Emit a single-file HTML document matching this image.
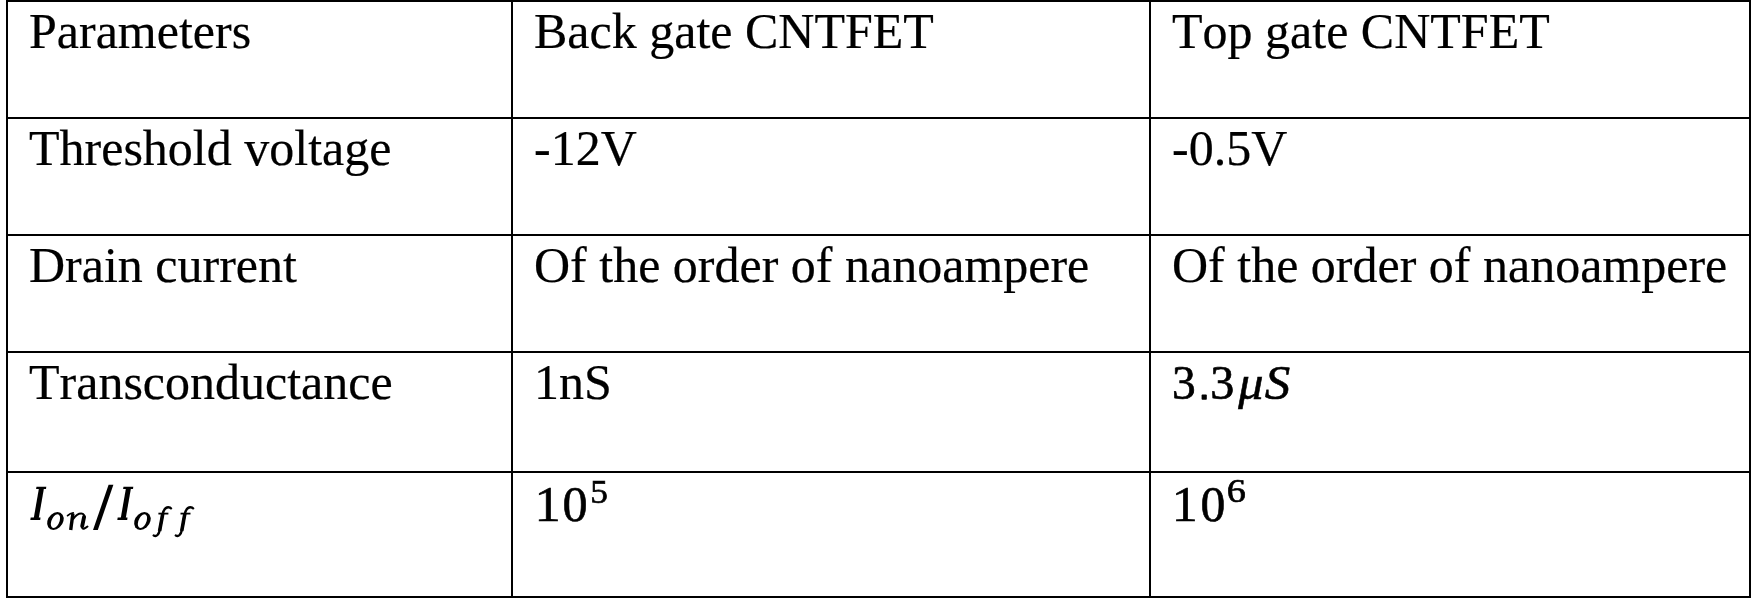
<!DOCTYPE html>
<html><head><meta charset="utf-8"><style>
html,body{margin:0;padding:0;background:#fff;}
body{will-change:transform;width:1756px;height:610px;position:relative;overflow:hidden;font-family:"Liberation Serif",serif;color:#000;}
.h,.v{position:absolute;background:#000;}
.h{left:6px;width:1745px;height:2px;}
.v{top:0;height:598px;width:2px;}
.t{font-kerning:none;font-variant-ligatures:none;position:absolute;white-space:nowrap;font-size:50px;line-height:56px;height:56px;transform-origin:0 44px;transform:translateY(-1.3px) scale(1,1.012);-webkit-text-stroke:0.22px #000;}
.g{position:absolute;left:0;top:0;white-space:nowrap;font-size:50px;line-height:50px;transform-origin:0 0;}
.s{font-size:35px;line-height:35px;}
.i{font-style:italic;}
svg{position:absolute;left:0;top:0;}
text{white-space:pre;}
</style></head><body>
<div class="h" style="top:0"></div>
<div class="h" style="top:117px"></div>
<div class="h" style="top:234px"></div>
<div class="h" style="top:351px"></div>
<div class="h" style="top:471px"></div>
<div class="h" style="top:596px"></div>
<div class="v" style="left:6px"></div>
<div class="v" style="left:511px"></div>
<div class="v" style="left:1149px"></div>
<div class="v" style="left:1749px"></div>

<div class="t" style="left:29px;top:4px">Parameters</div>
<div class="t" style="left:534px;top:4px">Back gate CNTFET</div>
<div class="t" style="left:1172px;top:4px">Top gate CNTFET</div>

<div class="t" style="left:29px;top:121px">Threshold voltage</div>
<div class="t" style="left:534px;top:121px">-12V</div>
<div class="t" style="left:1172px;top:121px">-0.5V</div>

<div class="t" style="left:29px;top:238px">Drain current</div>
<div class="t" style="left:534px;top:238px">Of the order of nanoampere</div>
<div class="t" style="left:1172px;top:238px">Of the order of nanoampere</div>

<div class="t" style="left:29px;top:355px">Transconductance</div>
<div class="t" style="left:534px;top:355px">1nS</div>

<svg width="1756" height="610" viewBox="0 0 1756 610" font-family="Liberation Serif" fill="#000">
<defs>

</defs>
<polygon points="108.6,484.8 113.4,484.8 97.8,530.1 93.0,530.1"/>
<rect x="1201.6" y="394.6" width="5.2" height="5.2" rx="0.8"/>
<g>
<polygon points="39.0,488 44.0,488 38.6,519 33.6,519"/>
<polygon points="36.5,486.8 46.3,486.8 46.0,489.1 36.1,489.1"/>
<polygon points="30.7,517.5 40.5,517.5 40.2,519.9 30.3,519.9"/>
<ellipse cx="0" cy="0" rx="8.05" ry="8.9" transform="translate(55.4,521.0) skewX(-13)"/>
<ellipse cx="0" cy="0" rx="4.2" ry="6.9" transform="translate(55.5,521.05) skewX(-16)" fill="#fff"/>
</g>
<g transform="translate(87,0)">
<polygon points="39.0,488 44.0,488 38.6,519 33.6,519"/>
<polygon points="36.5,486.8 46.3,486.8 46.0,489.1 36.1,489.1"/>
<polygon points="30.7,517.5 40.5,517.5 40.2,519.9 30.3,519.9"/>
<ellipse cx="0" cy="0" rx="8.05" ry="8.9" transform="translate(55.4,521.0) skewX(-13)"/>
<ellipse cx="0" cy="0" rx="4.2" ry="6.9" transform="translate(55.5,521.05) skewX(-16)" fill="#fff"/>
</g>
<g fill="none" stroke="#000" stroke-linecap="round" stroke-linejoin="round">
<path d="M67.6 515.6 C69.2 514.2 71 513.2 73.2 512.9" stroke-width="1.8"/>
<path d="M72.9 513.6 L70.7 529.9" stroke-width="3.4" stroke-linecap="butt"/>
<path d="M73.4 518.8 C75.5 515.6 78.6 513.5 81.2 513.5 C83.8 513.5 84.6 515.4 84.2 517.6 L82.2 526.0 C81.7 528.2 82.7 529.2 84.3 528.5 C85.6 527.9 86.6 527.2 87.5 526.5" stroke-width="2.0"/>
<path d="M84.1 516.8 L82.2 526.2" stroke-width="3.9"/>
</g>
<g fill="none" stroke="#000" stroke-linecap="round" stroke-linejoin="round">
<path d="M153.7 535.5 C156.6 537.0 158.8 534.5 159.8 530 L162.6 514.5 C163.6 509.6 165.5 507.2 168.3 507.2 C169.6 507.2 170.6 507.7 171.0 508.3" stroke-width="2.4"/>
<path d="M159.6 531 L162.8 513.5" stroke-width="3.6" stroke-linecap="butt"/>
<path d="M158.4 513.6 L168.4 513.6" stroke-width="1.8" stroke-linecap="butt"/>
</g>
<g fill="none" stroke="#000" stroke-linecap="round" stroke-linejoin="round" transform="translate(22.1,0)">
<path d="M153.7 535.5 C156.6 537.0 158.8 534.5 159.8 530 L162.6 514.5 C163.6 509.6 165.5 507.2 168.3 507.2 C169.6 507.2 170.6 507.7 171.0 508.3" stroke-width="2.4"/>
<path d="M159.6 531 L162.8 513.5" stroke-width="3.6" stroke-linecap="butt"/>
<path d="M158.4 513.6 L168.4 513.6" stroke-width="1.8" stroke-linecap="butt"/>
</g>
<text font-size="50" stroke="#000" stroke-width="0.7" transform="matrix(0.9488,0,0,0.9723,1172.10,399.07)">3</text>
<text font-size="50" stroke="#000" stroke-width="0.7" transform="matrix(0.9628,0,0,0.9723,1210.27,399.07)">3</text>
<text font-size="50" font-style="italic" stroke="#000" stroke-width="0.6" transform="matrix(1.0062,0,0,0.9635,1238.30,398.90)">μ</text>
<text font-size="50" font-style="italic" stroke="#000" stroke-width="0.6" transform="matrix(1.0186,0,0,0.9882,1264.75,399.06)">S</text>
<text font-size="50" stroke="#000" stroke-width="0.6" transform="matrix(1.0521,0,0,1.0209,534.39,520.84)">1</text>
<text font-size="50" stroke="#000" stroke-width="0.6" transform="matrix(1.0045,0,0,0.9956,562.39,520.65)">0</text>
<text font-size="35" stroke="#000" stroke-width="0.7" transform="matrix(1.0102,0,0,0.9646,590.23,502.53)">5</text>
<text font-size="50" stroke="#000" stroke-width="0.6" transform="matrix(1.0411,0,0,1.0209,1171.64,520.84)">1</text>
<text font-size="50" stroke="#000" stroke-width="0.6" transform="matrix(0.9955,0,0,0.9956,1200.41,520.65)">0</text>
<text font-size="35" stroke="#000" stroke-width="0.7" transform="matrix(1.0903,0,0,0.9485,1226.84,501.79)">6</text>
</svg>
</body></html>
